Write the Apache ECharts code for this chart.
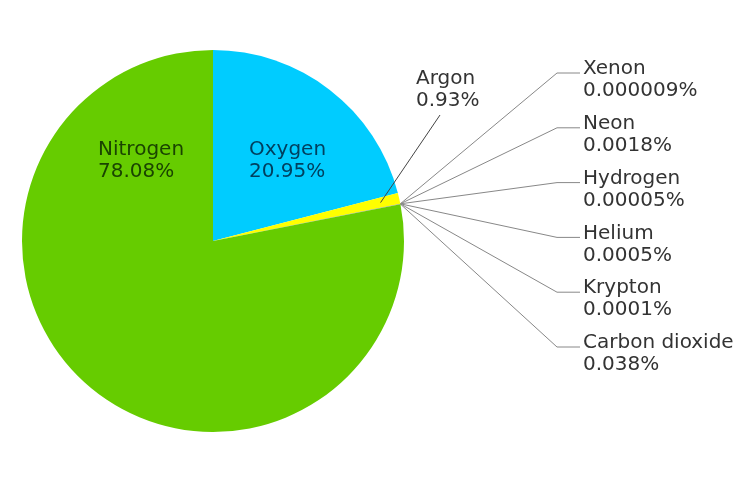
<!DOCTYPE html>
<html><head><meta charset="utf-8">
<script src="https://cdn.jsdelivr.net/npm/echarts@6/dist/echarts.min.js"></script>
<style>html,body{margin:0;padding:0;background:#fff}#c{width:740px;height:483px}</style>
</head><body><div id="c"></div>
<script>
// Data (clockwise from 12 o'clock)
var gasNames = ['Oxygen','Argon','Xenon','Neon','Hydrogen','Helium','Krypton','Carbon dioxide','Nitrogen'];
var gasValues = [20.95, 0.93, 0.000009, 0.0018, 0.00005, 0.0005, 0.0001, 0.038, 78.08];
var gasLabels = ['20.95%','0.93%','0.000009%','0.0018%','0.00005%','0.0005%','0.0001%','0.038%','78.08%'];

var CX = 213, CY = 241, R = 191;
var sliceColors = ['#00ccff','#ffff00','#999999','#999999','#999999','#999999','#999999','#999999','#66cc00'];
var insideColors = {Oxygen:'#00405f', Nitrogen:'#1a4400'};

var chart = echarts.init(document.getElementById('c'), null, {renderer:'canvas'});

var baseData = gasNames.map(function(n, i){
  var d = {name:n, value:gasValues[i], itemStyle:{color:sliceColors[i]}};
  if (insideColors[n]) {
    d.label = {position:'inside', color:insideColors[n]};
    d.labelLine = {show:false};
  }
  if (n === 'Argon') {
    d.label = {show:false};
    d.labelLine = {show:false};
  }
  return d;
});
// overlay series (transparent sectors) so the Argon leader line is drawn above the pie
var overlayData = gasNames.map(function(n, i){
  var d = {name:n, value:gasValues[i], itemStyle:{color:'rgba(0,0,0,0)'}};
  if (n !== 'Argon') {
    d.label = {show:false};
    d.labelLine = {show:false};
  }
  return d;
});

var labelStyle = {
  show:true,
  position:'outside',
  fontFamily:'DejaVu Sans',
  fontSize:20,
  lineHeight:22,
  color:'#333333',
  formatter:function(p){ return p.name + '\n' + gasLabels[p.dataIndex]; }
};

chart.setOption({
  animation:false,
  backgroundColor:'#ffffff',
  series:[{
    type:'pie',
    z:2,
    center:[CX, CY],
    radius:[0, R],
    startAngle:90,
    clockwise:true,
    avoidLabelOverlap:false,
    emphasis:{disabled:true},
    itemStyle:{borderWidth:0},
    label:labelStyle,
    labelLine:{show:true, length:10, length2:10, lineStyle:{color:'#888888', width:1}},
    labelLayout:function(p){
      var n = gasNames[p.dataIndex];
      if (n === 'Nitrogen') return {x:98, y:139, align:'left', verticalAlign:'top'};
      if (n === 'Oxygen') return {x:249, y:139, align:'left', verticalAlign:'top'};
      var pts = p.labelLinePoints;
      var s = pts ? pts[0] : [401, 204];
      var slot = p.dataIndex - 2;
      var top = 58 + slot * 54.8;
      var ey = top + 15;
      return {x:583, y:top, align:'left', verticalAlign:'top',
        labelLinePoints:[[s[0], s[1]], [557, ey], [580, ey]]};
    },
    data:baseData
  },{
    type:'pie',
    z:5,
    silent:true,
    center:[CX, CY],
    radius:[0, R],
    startAngle:90,
    clockwise:true,
    avoidLabelOverlap:false,
    emphasis:{disabled:true},
    itemStyle:{borderWidth:0},
    label:labelStyle,
    labelLine:{show:true, length:10, length2:10, lineStyle:{color:'#444444', width:1}},
    labelLayout:function(p){
      var pts = p.labelLinePoints;
      var s = pts ? pts[0] : [400, 198];
      var inner = [CX + (s[0]-CX)*0.9, CY + (s[1]-CY)*0.9];
      var end = [440, 115];
      var mid = [(inner[0]+end[0])/2, (inner[1]+end[1])/2];
      return {x:416, y:68, align:'left', verticalAlign:'top',
        labelLinePoints:[inner, mid, end]};
    },
    data:overlayData
  }]
});
</script></body></html>
